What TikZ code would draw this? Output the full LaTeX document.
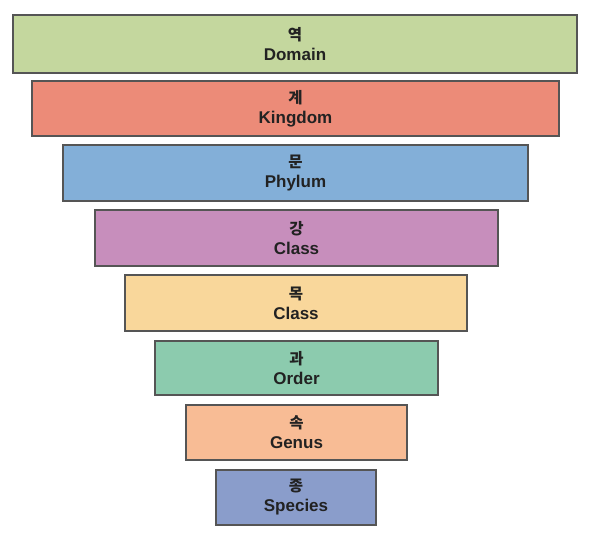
\documentclass[tikz,border=0pt]{standalone}
\usepackage{fontspec}
\setmainfont{Liberation Sans}
\newfontfamily\kr{Noto Sans CJK KR}
\definecolor{cDomain}{HTML}{C4D79E}
\definecolor{cKingdom}{HTML}{EC8B78}
\definecolor{cPhylum}{HTML}{83AFD8}
\definecolor{cClassA}{HTML}{C78EBC}
\definecolor{cClassB}{HTML}{F9D79B}
\definecolor{cOrder}{HTML}{8CCBAE}
\definecolor{cGenus}{HTML}{F8BC95}
\definecolor{cSpecies}{HTML}{8A9DCB}
\definecolor{edge}{HTML}{555555}
\definecolor{txt}{HTML}{222222}
\tikzset{
  rank/.style={draw=edge, line width=1.3bp, rectangle, inner sep=0pt,
    align=center, text=txt,
    font=\fontsize{17bp}{20bp}\selectfont\bfseries},
}
\newcommand{\rk}[2]{{\kr\fontsize{15.5bp}{20bp}\selectfont\bfseries #1}\\#2}
\begin{document}
\begin{tikzpicture}[x=1bp,y=-1bp]
\useasboundingbox[fill=white] (0,0) rectangle (590,535);
\node[rank, fill=cDomain,  minimum width=564bp, minimum height=58bp] (domain)  at (295,44)    {\rk{역}{Domain}};
\node[rank, fill=cKingdom, minimum width=527bp, minimum height=55bp] (kingdom) at (295.5,108.5) {\rk{계}{Kingdom}};
\node[rank, fill=cPhylum,  minimum width=465bp, minimum height=56bp] (phylum)  at (295.5,173) {\rk{문}{Phylum}};
\node[rank, fill=cClassA,  minimum width=403bp, minimum height=56bp] (classa)  at (296.5,238) {\rk{강}{Class}};
\node[rank, fill=cClassB,  minimum width=342bp, minimum height=56bp] (classb)  at (296,303)   {\rk{목}{Class}};
\node[rank, fill=cOrder,   minimum width=283bp, minimum height=54bp] (order)   at (296.5,368) {\rk{과}{Order}};
\node[rank, fill=cGenus,   minimum width=221bp, minimum height=55bp] (genus)   at (296.5,432.5) {\rk{속}{Genus}};
\node[rank, fill=cSpecies, minimum width=160bp, minimum height=55bp] (species) at (296,497.5) {\rk{종}{Species}};
\end{tikzpicture}
\end{document}
